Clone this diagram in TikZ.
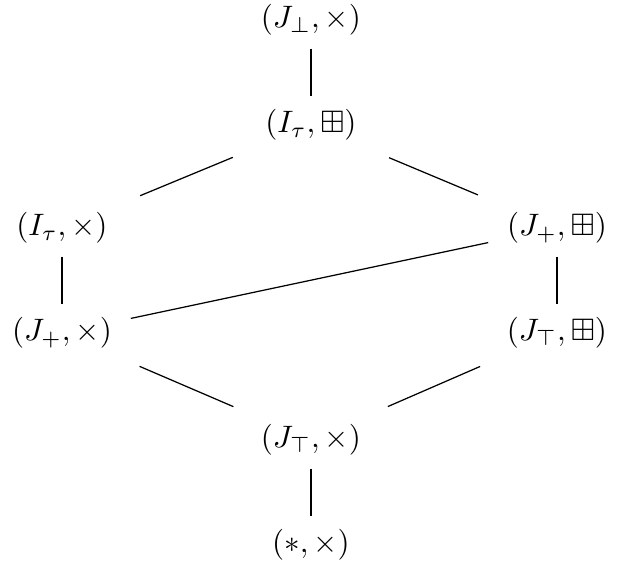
\documentclass[tikz,border=0pt]{standalone}
\usepackage{amssymb}
\begin{document}
\begin{tikzpicture}[x=0.3226pt,y=-0.3226pt,
  el/.style={inner sep=2pt},
  edge/.style={line width=0.4pt},
  dg/.style={edge,shorten >=9pt,shorten <=9pt}]
\useasboundingbox (0,0) rectangle (620,564);
\node[el] (a) at (311,20) {$(J_\perp,\times)$};
\node[el] (b) at (311,125) {$(I_\tau,\boxplus)$};
\node[el] (c) at (62,228) {$(I_\tau,\times)$};
\node[el] (d) at (557,228) {$(J_+,\boxplus)$};
\node[el] (e) at (62,333) {$(J_+,\times)$};
\node[el] (f) at (557,333) {$(J_\top,\boxplus)$};
\node[el] (g) at (311,440) {$(J_\top,\times)$};
\node[el] (h) at (311,545) {$(*,\times)$};
\draw[edge,shorten >=2pt,shorten <=2pt] (a)--(b);
\draw[edge,shorten >=2pt,shorten <=2pt] (c)--(e);
\draw[edge,shorten >=2pt,shorten <=2pt] (d)--(f);
\draw[edge,shorten >=2pt,shorten <=2pt] (g)--(h);
\draw[dg] (b)--(c);
\draw[dg] (b)--(d);
\draw[dg] (e)--(g);
\draw[dg] (f)--(g);
\draw[dg,shorten >=4pt,shorten <=4pt] (e)--(d);
\end{tikzpicture}
\end{document}
